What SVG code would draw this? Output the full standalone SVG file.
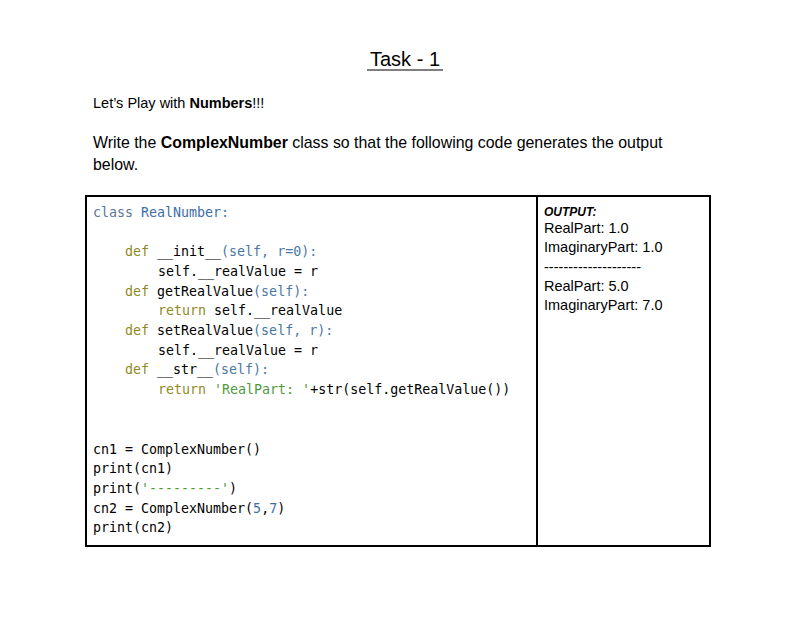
<svg xmlns="http://www.w3.org/2000/svg" width="811" height="626" viewBox="0 0 811 626">
<style>
.s{font-family:"Liberation Sans",Arial,sans-serif;font-size:15.9px;fill:#000}
.m{font-family:"DejaVu Sans Mono",monospace;font-size:13.3px;fill:#000}
.o{font-family:"Liberation Sans",Arial,sans-serif;font-size:14.5px;fill:#000}
.k{fill:#8f8a1e}.c{fill:#5f7590}.b{fill:#3d6ea8}.g{fill:#4f9a3c}.p{fill:#4a78a8}
</style>
<rect width="811" height="626" fill="#fff"/>
<g id="title"><text x="405" y="66" text-anchor="middle" class="s" style="font-size:20px">Task - 1</text><line x1="367" y1="70" x2="443" y2="70" stroke="#000" stroke-width="1.2"/></g>
<g id="intro">
<text x="93" y="108" class="s" style="font-size:14.5px">Let’s Play with <tspan font-weight="bold">Numbers</tspan>!!!</text>
<text x="93" y="148" class="s">Write the <tspan font-weight="bold">ComplexNumber</tspan> class so that the following code generates the output</text>
<text x="93" y="170" class="s">below.</text>
</g>
<g id="table" fill="none" stroke="#000" stroke-width="2">
<rect x="86" y="196" width="624" height="350"/>
<line x1="537" y1="196" x2="537" y2="546"/>
</g>
<g id="code" class="m">
<text x="93" y="217" class="m"><tspan class="c">class</tspan> <tspan class="b">RealNumber</tspan><tspan class="p">:</tspan></text>
<text x="125" y="256" class="m"><tspan class="k">def</tspan> __init__<tspan class="p">(self, r=0):</tspan></text>
<text x="158" y="276" class="m">self.__realValue = r</text>
<text x="125" y="296" class="m"><tspan class="k">def</tspan> getRealValue<tspan class="p">(self):</tspan></text>
<text x="158" y="315" class="m"><tspan class="k">return</tspan> self.__realValue</text>
<text x="125" y="335" class="m"><tspan class="k">def</tspan> setRealValue<tspan class="p">(self, r):</tspan></text>
<text x="158" y="355" class="m">self.__realValue = r</text>
<text x="125" y="374" class="m"><tspan class="k">def</tspan> __str__<tspan class="p">(self):</tspan></text>
<text x="158" y="394" class="m"><tspan class="k">return</tspan> <tspan class="g">'RealPart: '</tspan>+str(self.getRealValue())</text>
<text x="93" y="454" class="m">cn1 = ComplexNumber()</text>
<text x="93" y="473" class="m">print(cn1)</text>
<text x="93" y="493" class="m">print(<tspan class="g">'---------'</tspan>)</text>
<text x="93" y="513" class="m">cn2 = ComplexNumber(<tspan class="b">5</tspan>,<tspan class="b">7</tspan>)</text>
<text x="93" y="532" class="m">print(cn2)</text>
</g>
<g id="output">
<text x="544" y="216" class="o" style="font-size:12px;font-weight:bold;font-style:italic">OUTPUT:</text>
<text x="544" y="233" class="o">RealPart: 1.0</text>
<text x="544" y="252" class="o">ImaginaryPart: 1.0</text>
<text x="544" y="272" class="o" textLength="97" lengthAdjust="spacing">--------------------</text>
<text x="544" y="291" class="o">RealPart: 5.0</text>
<text x="544" y="310" class="o">ImaginaryPart: 7.0</text>
</g>
</svg>
